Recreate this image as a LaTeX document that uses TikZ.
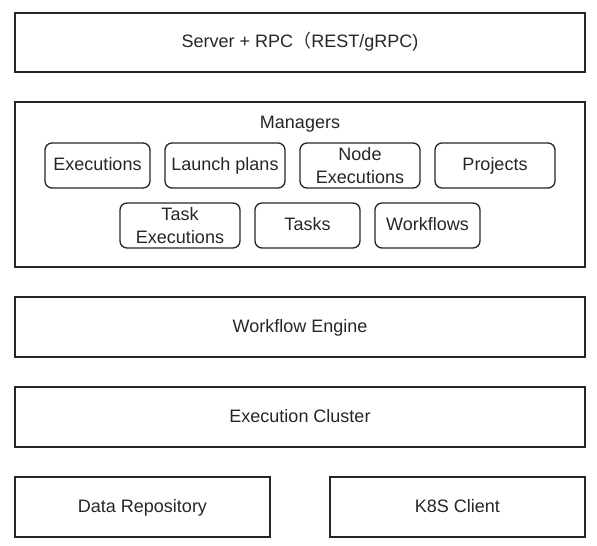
\documentclass[tikz,border=0pt]{standalone}
\usepackage{fontspec}
\setmainfont{Liberation Sans}
\newfontfamily\cjk{Noto Sans CJK SC}
\begin{document}
\begin{tikzpicture}[x=1pt,y=-1pt,
  every node/.style={font=\fontsize{18}{23}\selectfont, text=black!85, inner sep=0pt, align=center},
  one/.style={text height=12.8pt, text depth=2.5pt},
  layer/.style={draw=black!85, line width=1.3pt, minimum width=570pt, minimum height=60pt},
  halfbox/.style={draw=black!85, line width=1.3pt, minimum width=255pt, minimum height=60pt},
  mgr/.style={draw=black!85, line width=1.3pt, rounded corners=7pt, minimum height=45pt}]
\useasboundingbox (0,0) rectangle (597,546);
\node[layer, one, minimum height=59pt] (server) at (300,42.5) {Server + RPC{\cjk （}REST/gRPC)};
\node[layer, minimum height=165pt] (managers) at (300,184.5) {};
\node[one] (mlabel) at (300,123) {Managers};
\node[mgr, one, minimum width=105pt] (exec) at (97.5,165.5) {Executions};
\node[mgr, one, minimum width=120pt] (launch) at (225,165.5) {Launch plans};
\node[mgr, minimum width=120pt] (nodeexec) at (360,165.5) {Node\\Executions};
\node[mgr, one, minimum width=120pt] (projects) at (495,165.5) {Projects};
\node[mgr, minimum width=120pt] (taskexec) at (180,225.5) {Task\\Executions};
\node[mgr, one, minimum width=105pt] (tasks) at (307.5,225.5) {Tasks};
\node[mgr, one, minimum width=105pt] (workflows) at (427.5,225.5) {Workflows};
\node[layer, one] (engine) at (300,327) {Workflow Engine};
\node[layer, one] (cluster) at (300,417) {Execution Cluster};
\node[halfbox, one] (datarepo) at (142.5,507) {Data Repository};
\node[halfbox, one] (k8s) at (457.5,507) {K8S Client};
\end{tikzpicture}
\end{document}
